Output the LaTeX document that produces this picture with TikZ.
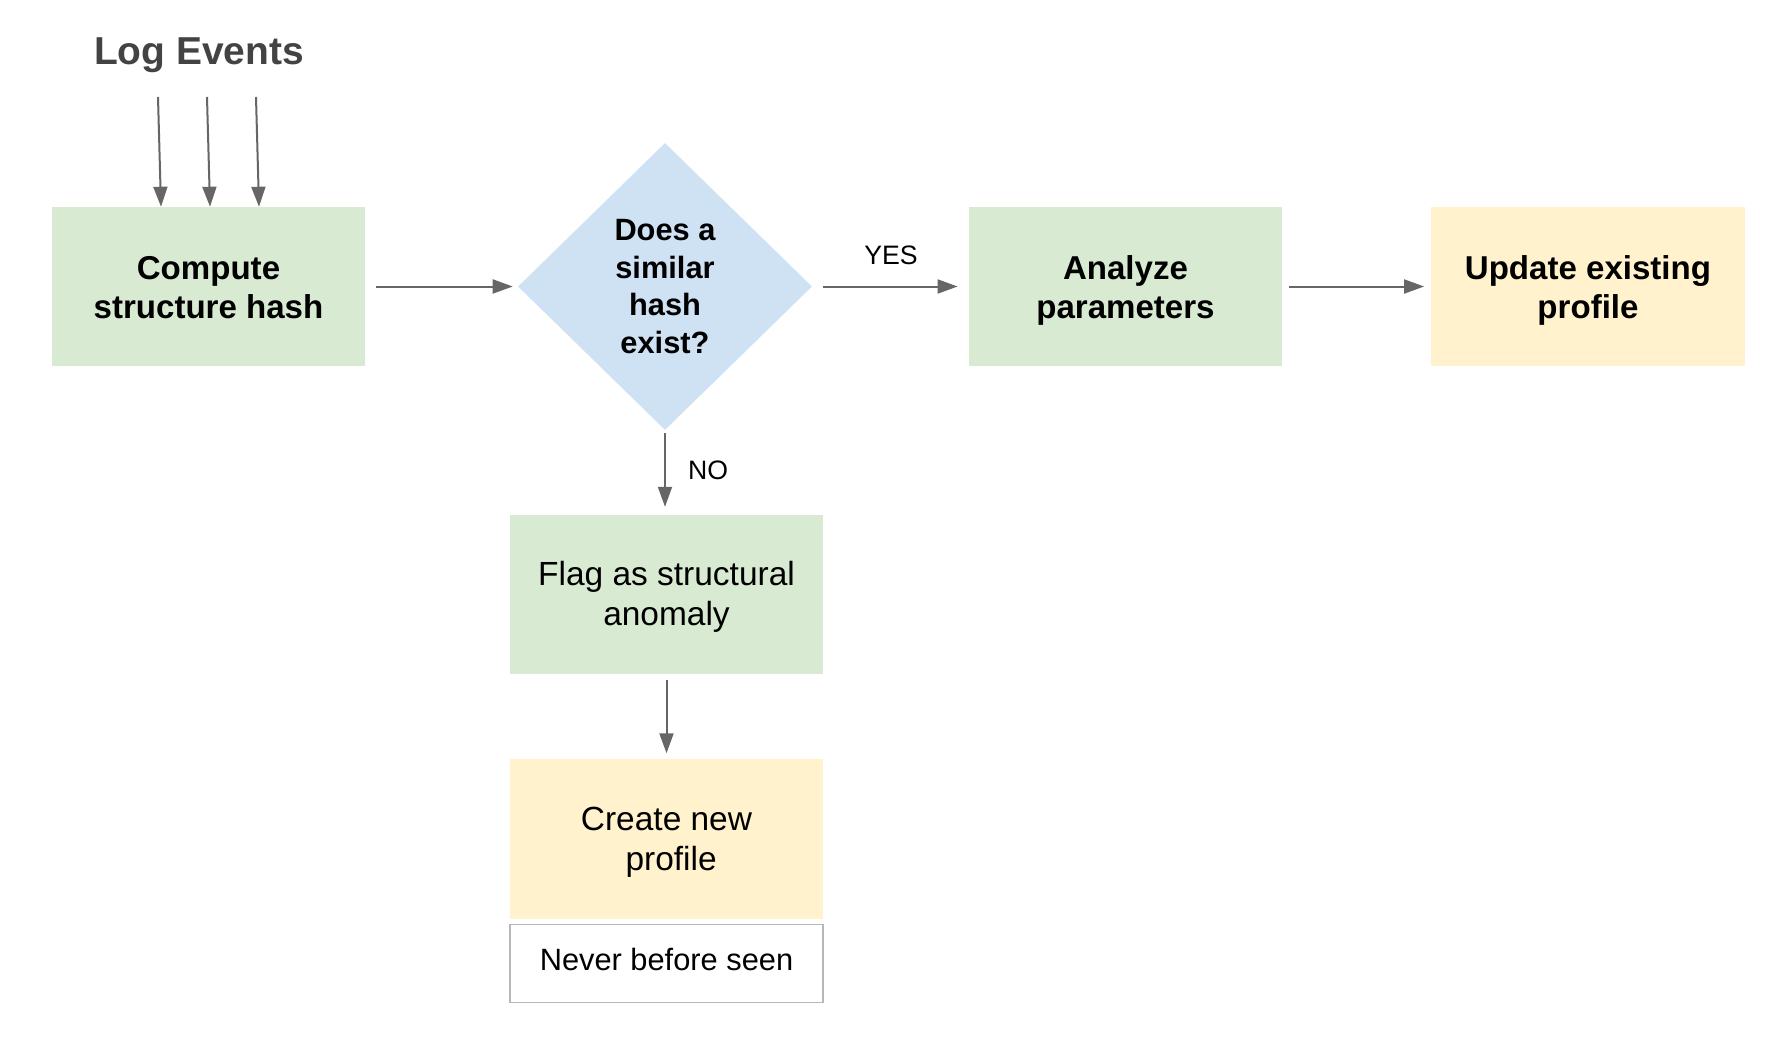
\documentclass[tikz,border=0pt]{standalone}
\usepackage{fontspec}
\setmainfont{Liberation Sans}
\usetikzlibrary{shapes.geometric,arrows.meta,calc}
\definecolor{boxgreen}{HTML}{D9EAD3}
\definecolor{boxyellow}{HTML}{FFF2CC}
\definecolor{boxblue}{HTML}{CFE2F3}
\definecolor{arrowgray}{HTML}{666666}
\definecolor{titlegray}{HTML}{434343}
\definecolor{bordergray}{HTML}{B7B7B7}
\newcommand{\lnstrut}{\rule[-0.212em]{0pt}{1.117em}}
\newcommand{\bdstrut}{\rule[-0.17em]{0pt}{1.12em}}
\newcommand{\nvstrut}{\rule[-0.3em]{0pt}{1.06em}}
\begin{document}
\begin{tikzpicture}[x=0.75pt,y=-0.75pt,
 procbox/.style={rectangle, minimum width=235pt, minimum height=119.25pt, inner sep=0pt, align=center},
 boldtxt/.style={font=\fontsize{24.8}{29.3}\selectfont\bfseries},
 regtxt/.style={font=\fontsize{25.1}{30}\selectfont},
 arr/.style={draw=arrowgray, line width=1.5pt, -{Triangle[length=15pt,width=10.5pt]}},
 lbl/.style={font=\fontsize{20}{24}\selectfont, anchor=base}]
\useasboundingbox[fill=white] (0,0) rectangle (1792,1038);

\node[font=\fontsize{29.2}{34}\selectfont\bfseries, text=titlegray, anchor=base] (title) at (199,65) {Log Events};

\node[procbox, boldtxt, fill=boxgreen] (cmp) at (208.5,286.5) {\bdstrut Compute\\\bdstrut structure hash};
\node[diamond, fill=boxblue, minimum width=220.5pt, minimum height=215.25pt, inner sep=0pt, align=center, font=\fontsize{23.1}{28.2}\selectfont\bfseries] (dia) at (665,286.5) {\lnstrut Does a\\similar\\hash\\\lnstrut exist?};
\node[procbox, boldtxt, fill=boxgreen] (ana) at (1125.5,286.5) {\bdstrut Analyze\\\bdstrut parameters};
\node[procbox, boldtxt, fill=boxyellow] (upd) at (1588,286.5) {\bdstrut Update existing\\\bdstrut profile};
\node[procbox, regtxt, fill=boxgreen] (flag) at (666.5,594) {\lnstrut Flag as structural\\\lnstrut anomaly};
\node[procbox, regtxt, fill=boxyellow, minimum height=120pt] (new) at (666.5,839) {\lnstrut Create new\\\lnstrut\hspace*{0.278em}profile};
\node[rectangle, draw=bordergray, line width=1.1pt, fill=white, minimum width=235pt, minimum height=58.5pt, inner sep=0pt, font=\fontsize{23.1}{28}\selectfont] (nev) at (666.5,963.5) {\nvstrut Never before seen};

\coordinate (s1) at (158,97);
\coordinate (s2) at (207,97);
\coordinate (s3) at (256,97);
\draw[arr] (s1) -- ($(cmp.north)+(-47.5,0)$);
\draw[arr] (s2) -- ($(cmp.north)+(1.5,0)$);
\draw[arr] (s3) -- ($(cmp.north)+(50.5,0)$);

\draw[arr, shorten <=8.25pt, shorten >=3.75pt] (cmp.east) -- (dia.west);
\draw[arr, shorten <=8.25pt, shorten >=8.25pt] (dia.east) -- (ana.west);
\node[lbl] (yes) at (891,264) {YES};
\draw[arr, shorten <=5.25pt, shorten >=5.25pt] (ana.east) -- (upd.west);
\draw[arr, shorten <=2.25pt, shorten >=5.6pt] (dia.south) -- (dia.south |- flag.north);
\node[lbl] (no) at (708,479.3) {NO};
\draw[arr, shorten <=4.9pt, shorten >=4.1pt] (flag.south) -- (new.north);
\end{tikzpicture}
\end{document}
